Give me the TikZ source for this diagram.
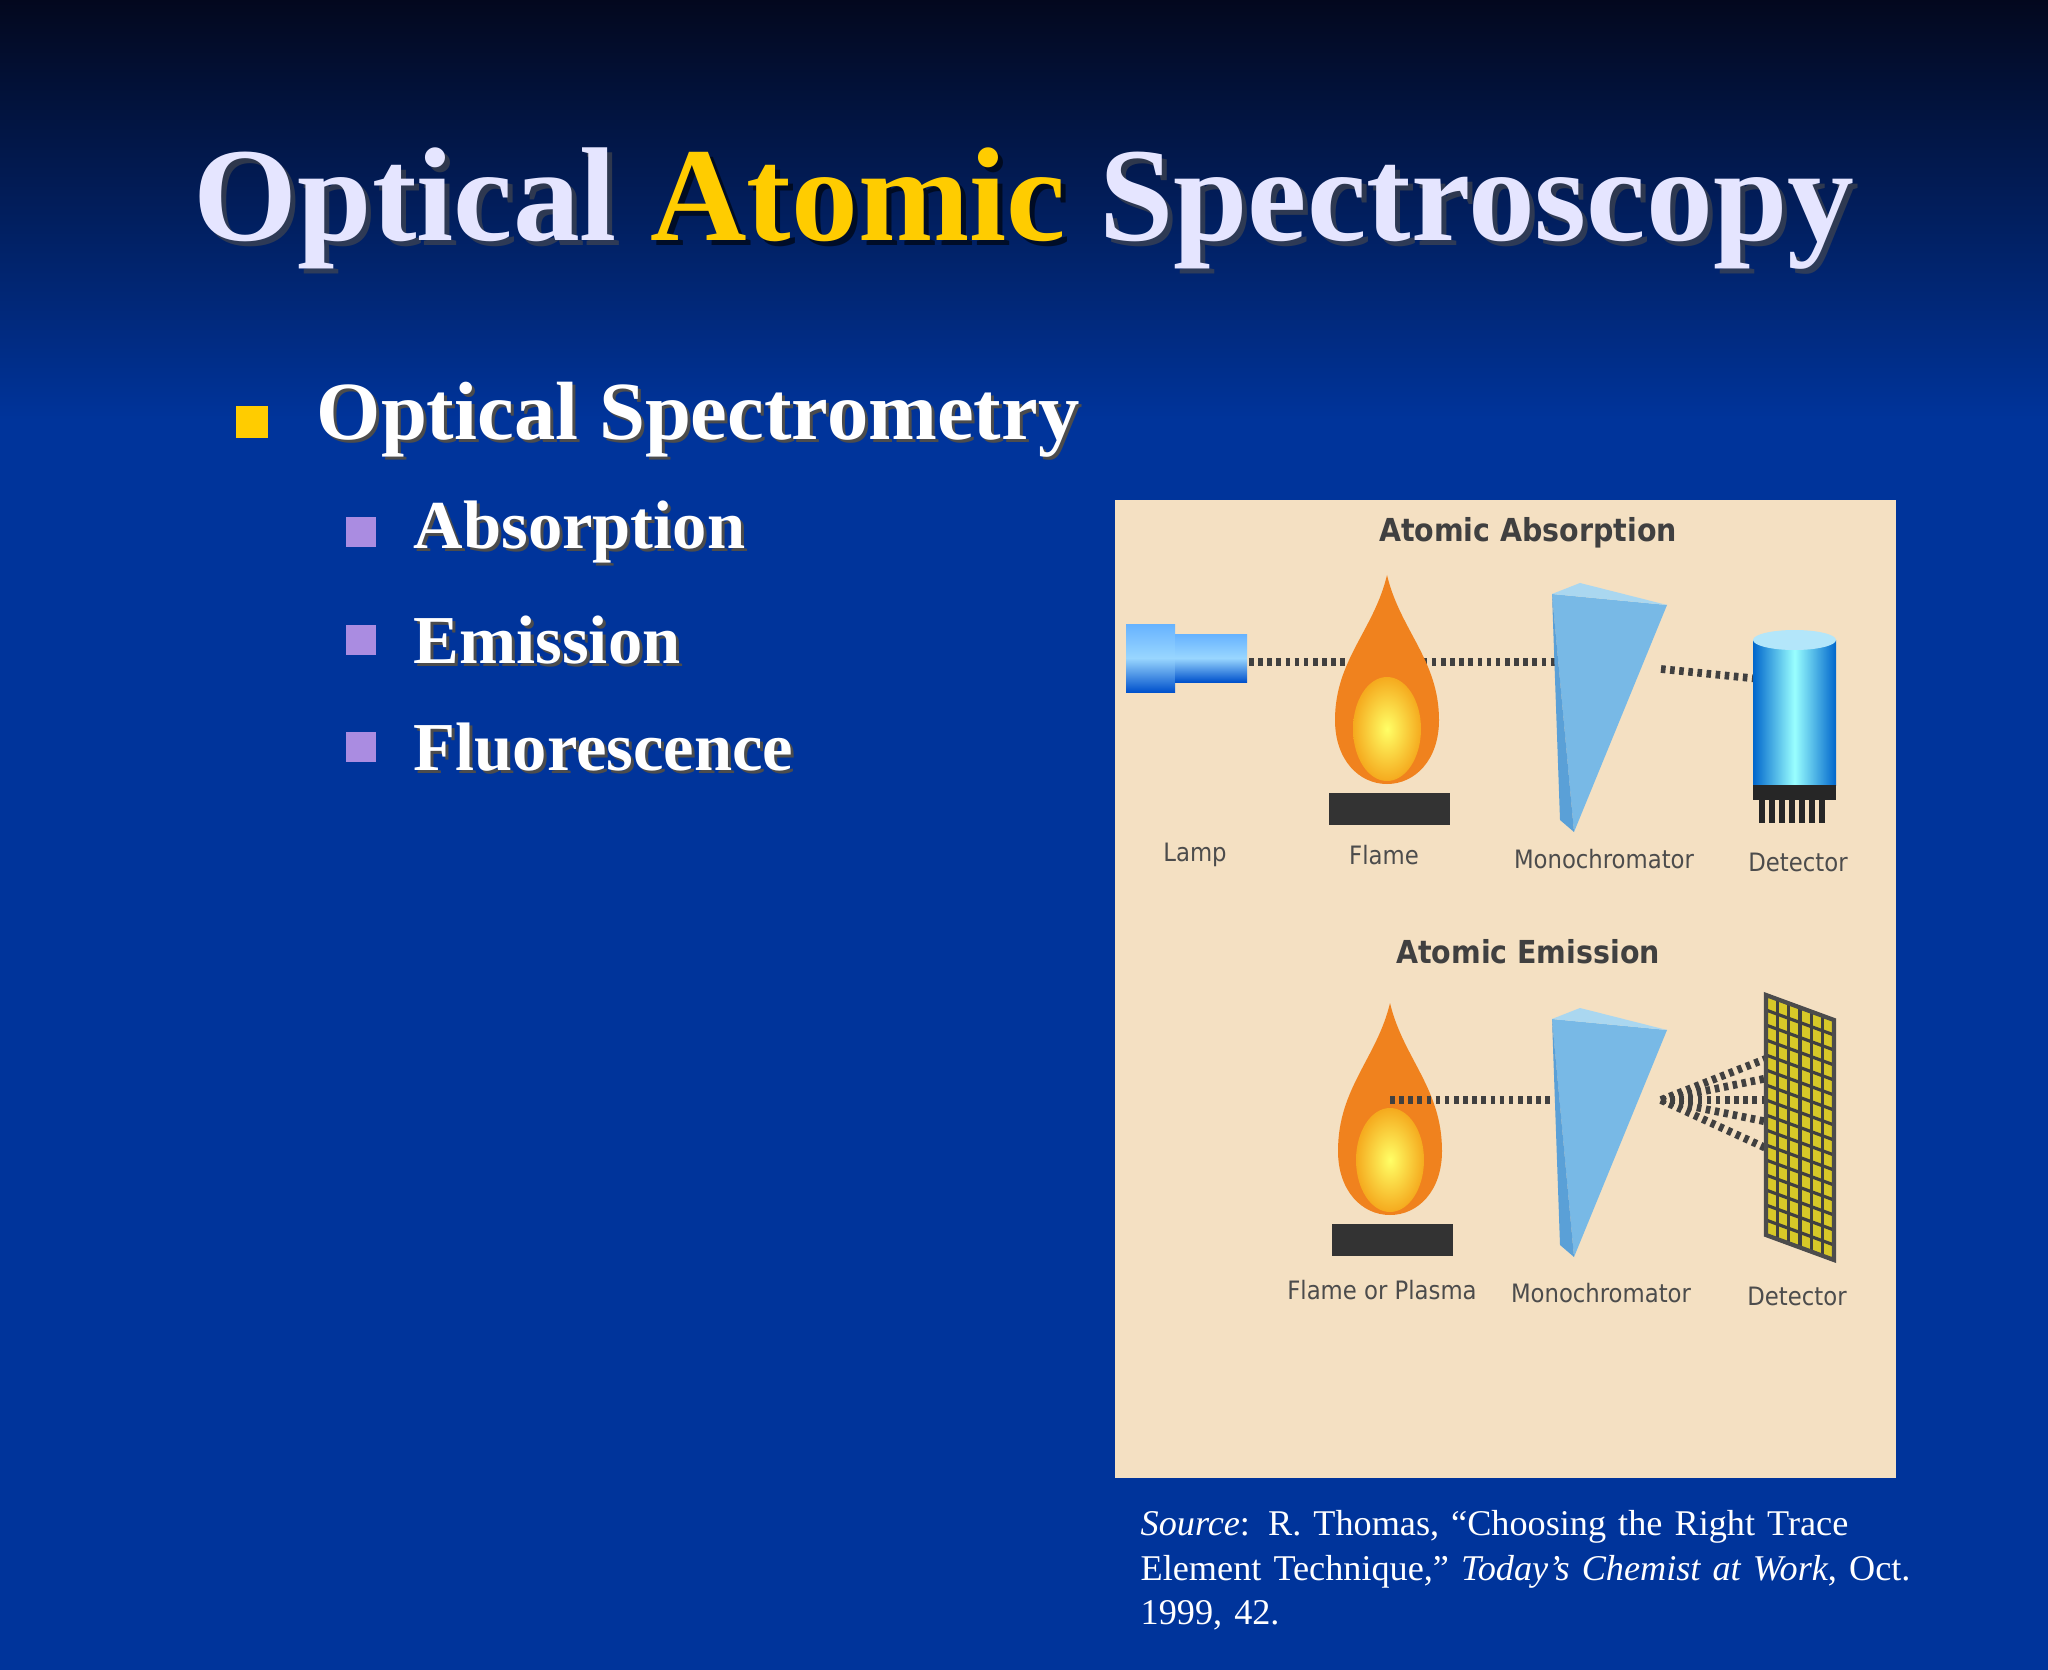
\documentclass[tikz,border=0pt]{standalone}
\usepackage{fontspec}
\setmainfont{Liberation Serif}
\newfontfamily\lblfont{DejaVu Sans Condensed}
\begin{document}
\begin{tikzpicture}[x=0.01cm,y=-0.01cm,
  title/.style={font=\fontsize{38}{40}\selectfont\bfseries, text=white!90!blue, anchor=center},
  lvlone/.style={font=\fontsize{23.5}{26}\selectfont\bfseries, text=white, anchor=west, inner sep=0pt},
  lvltwo/.style={font=\fontsize{19.5}{22}\selectfont\bfseries, text=white, anchor=west, inner sep=0pt},
  lbl/.style={font=\lblfont\fontsize{7.2}{9}\selectfont, text=black!70},
  hdr/.style={font=\lblfont\fontsize{9}{11}\selectfont\bfseries, text=black!75},
  dots/.style={line width=2.2pt, dash pattern=on 1.3pt off 1.3pt, black!75},
  src/.style={font=\fontsize{10.3}{12.6}\selectfont, text=white, anchor=north west, align=left, text width=7.9cm, inner sep=0pt}]
\useasboundingbox (0,0) rectangle (2048,1670);
\fill[color={rgb,255:red,0;green,52;blue,155}] (0,0) rectangle (2048,1670);
\shade[top color={rgb,255:red,3;green,8;blue,30}, bottom color={rgb,255:red,0;green,52;blue,155}] (0,0) rectangle (2048,420);
% title
\node[title, text=black!70, opacity=0.6] at (1029,214) {Optical \textcolor{black}{Atomic} Spectroscopy};
\node[title] (t) at (1024,209) {Optical \textcolor[rgb]{1,0.8,0}{Atomic} Spectroscopy};
% bullets
\fill[color={rgb,255:red,255;green,204;blue,0}] (236,406) rectangle (268,438);
\node[lvlone, text=black!70] at (319,423) {Optical Spectrometry};
\node[lvlone] (b1) at (316,420) {Optical Spectrometry};
\foreach \y/\t [count=\i] in {532/Absorption,640/Emission,747/Fluorescence}{
  \fill[color={rgb,255:red,170;green,140;blue,225}] (346,\y-15) rectangle (376,\y+15);
  \node[lvltwo, text=black!70] at (416,\y+3) {\t};
  \node[lvltwo] (s\i) at (413,\y) {\t};
}
% picture
\fill[color={rgb,255:red,244;green,224;blue,194}] (1115,500) rectangle (1896,1478);
\node[hdr] (h1) at (1528,533) {Atomic Absorption};
\node[hdr] (h2) at (1528,952) {Atomic Emission};
% lamp
\shade[top color=cyan!50!blue!60, bottom color=blue!60!cyan!80!black, middle color=cyan!60!blue!40] (1126,624) rectangle (1175,692);
\shade[top color=cyan!50!blue!60, bottom color=blue!60!cyan!80!black, middle color=cyan!60!blue!40] (1175,634) rectangle (1247,682);
% dotted beams
\draw[dots] (1249,662) -- (1557,662);
\draw[dots] (1661,669) -- (1760,679);
% flames
\foreach \cx/\top/\bot in {1387/575/784, 1390/1003/1215}{
  \fill[color={rgb,255:red,240;green,130;blue,30}] (\cx,\top) .. controls (\cx+13,\top+55) and (\cx+52,\top+85) .. (\cx+52,\bot-64) .. controls (\cx+52,\bot-24) and (\cx+28,\bot) .. (\cx,\bot) .. controls (\cx-28,\bot) and (\cx-52,\bot-24) .. (\cx-52,\bot-64) .. controls (\cx-52,\top+85) and (\cx-13,\top+55) .. (\cx,\top) -- cycle;
  \shade[inner color=yellow!60!white, outer color={rgb,255:red,245;green,170;blue,30}] (\cx,\bot-55) ellipse (34 and 52);
  \fill[black!80] (\cx-58,\bot+9) rectangle (\cx+63,\bot+41);
}
\draw[dots] (1390,1100) -- (1561,1100);
% prisms
\foreach \dy in {0,425}{
  \fill[color={rgb,255:red,120;green,185;blue,230}] (1552,594+\dy) -- (1667,605+\dy) -- (1574,832+\dy) -- cycle;
  \fill[color={rgb,255:red,170;green,215;blue,240}] (1552,594+\dy) -- (1580,583+\dy) -- (1667,605+\dy) -- cycle;
  \fill[color={rgb,255:red,90;green,160;blue,215}] (1552,594+\dy) -- (1574,832+\dy) -- (1560,820+\dy) -- cycle;
}
% detector 1
\shade[left color=blue!50!cyan!80!black, right color=blue!50!cyan!80!black, middle color=cyan!40] (1753,640) rectangle (1836,785);
\fill[cyan!30] (1794.5,640) ellipse (41.5 and 10);
\fill[black!85] (1753,785) rectangle (1836,800);
\foreach \px in {1762,1772,...,1830}{\draw[black!85, line width=1.5pt] (\px,800) -- (\px,823);}
% emission fan
\foreach \ty in {1058,1078,1100,1122,1149}{\draw[dots] (1661,1100) -- (1768,\ty);}
% detector 2 grid
\fill[color={rgb,255:red,215;green,200;blue,40}] (1766,995) -- (1834,1020) -- (1834,1260) -- (1766,1235) -- cycle;
\foreach \i in {1,...,5}{\draw[black!75, line width=0.9pt] (1766+\i*11.3,995+\i*4.2) -- (1766+\i*11.3,1235+\i*4.2);}
\foreach \j in {0,...,16}{\draw[black!75, line width=0.9pt] (1766,995+\j*15) -- (1834,1020+\j*15);}
\draw[black!70, line width=1.2pt] (1766,995) -- (1834,1020) -- (1834,1260) -- (1766,1235) -- cycle;
% labels
\node[lbl] (l1) at (1195,855) {Lamp};
\node[lbl] (l2) at (1384,855) {Flame};
\node[lbl] (l3) at (1604,859) {Monochromator};
\node[lbl] (l4) at (1798,862) {Detector};
\node[lbl] (l5) at (1382,1290) {Flame or Plasma};
\node[lbl] (l6) at (1601,1293) {Monochromator};
\node[lbl] (l7) at (1797,1296) {Detector};
% source
\node[src] (src) at (1140,1510) {\textit{Source}: R. Thomas, “Choosing the Right Trace\\ Element Technique,” \textit{Today’s Chemist at Work}, Oct.\\ 1999, 42.};
\end{tikzpicture}
\end{document}
